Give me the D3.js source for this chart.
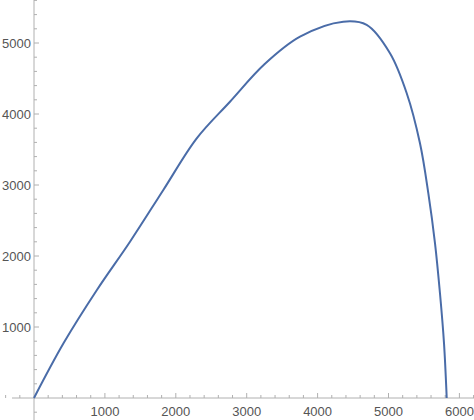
<!DOCTYPE html><html><head><script src="https://cdn.jsdelivr.net/npm/d3@7"></script>
<style>body{margin:0;background:#fff}</style></head><body><svg id="c" width="474" height="420"></svg>
<script>
const xs=[0,416,887,1354,1824,2295,2764,3250,3752,4362,4692,5021,5257,5444,5562,5656,5726,5783,5821];
const ys=[0,770,1521,2201,2930,3657,4173,4700,5089,5300,5254,4855,4292,3587,2883,2179,1475,770,0];
const xTicks=[1000,2000,3000,4000,5000,6000];
const yTicks=[1000,2000,3000,4000,5000];
const svg=d3.select("#c");
const x=d3.scaleLinear().domain([0,1000]).range([34,104.9]);
const y=d3.scaleLinear().domain([0,1000]).range([398,327]);
const ax="#b0b0b0";
svg.append("line").attr("x1",12).attr("x2",474).attr("y1",y(0)).attr("y2",y(0)).attr("stroke",ax);
svg.append("line").attr("x1",x(0)).attr("x2",x(0)).attr("y1",0).attr("y2",420).attr("stroke",ax);
d3.range(-400,6201,200).forEach(v=>{if(v===0)return;const maj=v%1000===0;
 svg.append("line").attr("x1",x(v)).attr("x2",x(v)).attr("y1",y(0)).attr("y2",y(0)-(maj?5:3)).attr("stroke",ax);});
d3.range(-400,5601,200).forEach(v=>{if(v===0)return;const maj=v%1000===0;
 svg.append("line").attr("x1",x(0)).attr("x2",x(0)+(maj?5:3)).attr("y1",y(v)).attr("y2",y(v)).attr("stroke",ax);});
xTicks.forEach(v=>svg.append("text").attr("x",x(v)).attr("y",y(0)+18).attr("text-anchor","middle").attr("font-family","Liberation Sans, Arial").attr("font-size",13).attr("fill","#555").text(v));
yTicks.forEach(v=>svg.append("text").attr("x",x(0)-3).attr("y",y(v)+4.5).attr("text-anchor","end").attr("font-family","Liberation Sans, Arial").attr("font-size",13).attr("fill","#555").text(v));
svg.append("path").datum(xs.map((v,i)=>[v,ys[i]])).attr("d",d3.line().x(d=>x(d[0])).y(d=>y(d[1])).curve(d3.curveCatmullRom))
 .attr("fill","none").attr("stroke","#4a6ca8").attr("stroke-width",2);
</script></body></html>
